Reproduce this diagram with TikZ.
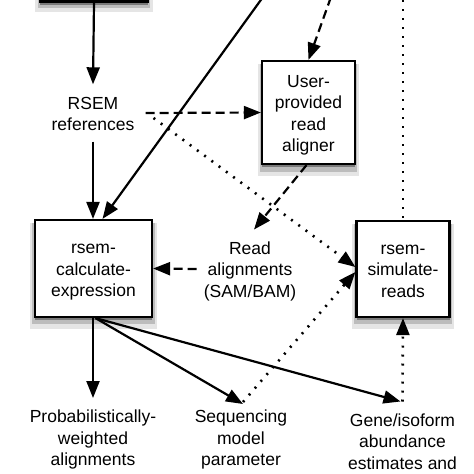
\documentclass[tikz,border=0pt]{standalone}
\usepackage{fontspec}
\setmainfont{Liberation Sans}
\usetikzlibrary{arrows.meta,shadows}
\newcommand\topst{\rule{0pt}{17.5pt}}
\newcommand\botst{\rule[-4pt]{0pt}{0pt}}
\begin{document}
\begin{tikzpicture}[x=1pt,y=-1pt,
  txt/.style={font=\fontsize{17.5}{21.5}\selectfont, align=center},
  box/.style={txt, draw, line width=2.2pt, fill=white, inner sep=0pt,
    general shadow={shadow xshift=0pt, shadow yshift=-7pt, shadow scale=1.09, fill=black, opacity=.10},
    general shadow={shadow xshift=0pt, shadow yshift=-5pt, shadow scale=1.045, fill=black, opacity=.18},
    general shadow={shadow xshift=0pt, shadow yshift=-3pt, fill=black, opacity=.35}},
  lbl/.style={txt, inner sep=7pt},
  tipa/.style={-{Triangle[length=17pt,width=13pt]}},
  solidc/.style={line width=2.2pt, tipa},
  dashc/.style={line width=2.2pt, tipa, dash pattern=on 9pt off 5pt},
  dotc/.style={line width=2.6pt, dash pattern=on 2pt off 7pt},
  dota/.style={dotc, tipa}]
\useasboundingbox (0,0) rectangle (474,474);
\clip (0,0) rectangle (474,474);
% boxes
\node[box, fill=black, minimum width=108pt, minimum height=60pt, anchor=south] (topb) at (94,3) {};
\node[box, minimum width=117pt, minimum height=97pt] (calc) at (93.5,268.5) {\topst rsem-\\calculate-\\expression\botst};
\node[box, minimum width=93pt, minimum height=103pt] (user) at (308.5,112.5) {\topst User-\\provided\\read\\aligner\botst};
\node[box, minimum width=93pt, minimum height=96pt] (sim) at (403,269) {\topst rsem-\\simulate-\\reads\botst};
% labels
\node[lbl] (refs) at (93,113) {\topst RSEM\\references\botst};
\node[lbl] (readal) at (250,269) {\topst Read\\alignments\\(SAM/BAM)\botst};
\node[lbl, anchor=north] (prob) at (93,398) {\topst Probabilistically-\\weighted\\alignments\botst};
\node[lbl, anchor=north] (seq) at (241,398) {\topst Sequencing\\model\\parameter\botst};
\node[lbl, anchor=north] (gene) at (402.5,401.5) {\topst Gene/isoform\\abundance\\estimates and\botst};
% free ends
\coordinate (rtop) at (263,-3);
\coordinate (utop) at (331,-3);
\coordinate (stop) at (403,0);
% connectors
\draw[solidc] (topb.south) -- (refs.north);
\draw[solidc] (refs.south) -- ([xshift=-0.5pt]calc.north);
\draw[solidc] (rtop) -- ([xshift=9pt]calc.north);
\draw[dashc] ([xshift=4pt]refs.east) -- (user.west);
\draw[dashc] (utop) -- (user.north);
\draw[dotc] (stop) -- (sim.north);
\draw[dota] ([shift={(12,5)}]refs.east) -- ([yshift=2pt]sim.west);
\draw[dashc] ([xshift=-2pt]user.south) -- ([xshift=4pt]readal.north);
\draw[dashc] (readal.west) -- (calc.east);
\draw[solidc] ([xshift=-0.5pt]calc.south) -- (prob.north);
\draw[solidc] ([xshift=2pt]calc.south) -- ([shift={(2,6)}]seq.north);
\draw[solidc] ([xshift=2pt]calc.south) -- ([xshift=-2pt]gene.north);
\draw[dota] ([shift={(2,4)}]seq.north) -- ([yshift=-3pt]sim.west);
\draw[dota] (gene.north) -- (sim.south);
\end{tikzpicture}
\end{document}
